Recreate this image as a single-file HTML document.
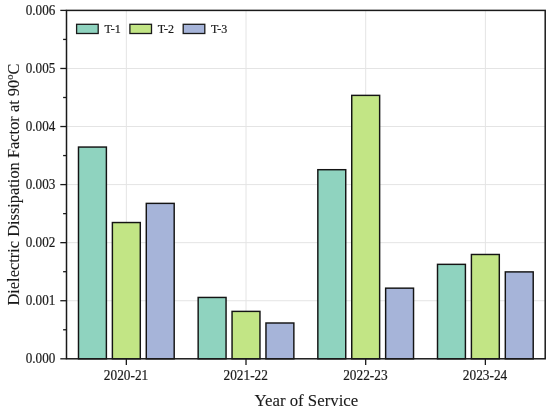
<!DOCTYPE html>
<html><head><meta charset="utf-8"><title>Dielectric Dissipation Factor</title>
<style>
html,body{margin:0;padding:0;background:#fff;}
svg{display:block;}
text{font-family:"Liberation Serif","Times New Roman",serif;fill:#1a1a1a;}
.tk{font-size:13.33px;stroke:#1a1a1a;stroke-width:0.2px;}
.ti{font-size:16.4px;stroke:#1a1a1a;stroke-width:0.1px;}
.lg{font-size:12px;stroke:#1a1a1a;stroke-width:0.2px;}
</style></head><body>
<svg width="550" height="412" viewBox="0 0 550 412">
<rect width="550" height="412" fill="#ffffff"/>
<g stroke="#e4e4e4" stroke-width="1" fill="none"><line x1="66.5" x2="545.2" y1="300.73" y2="300.73"/><line x1="66.5" x2="545.2" y1="242.67" y2="242.67"/><line x1="66.5" x2="545.2" y1="184.60" y2="184.60"/><line x1="66.5" x2="545.2" y1="126.53" y2="126.53"/><line x1="66.5" x2="545.2" y1="68.47" y2="68.47"/><line x1="126.34" x2="126.34" y1="10.4" y2="358.8"/><line x1="246.01" x2="246.01" y1="10.4" y2="358.8"/><line x1="365.69" x2="365.69" y1="10.4" y2="358.8"/><line x1="485.36" x2="485.36" y1="10.4" y2="358.8"/></g>
<g fill="#8fd3bf" stroke="#141414" stroke-width="1.45"><rect x="78.49" y="147.06" width="27.90" height="211.74"/><rect x="198.16" y="297.45" width="27.90" height="61.35"/><rect x="317.84" y="169.70" width="27.90" height="189.10"/><rect x="437.51" y="264.35" width="27.90" height="94.45"/></g>
<g fill="#c2e585" stroke="#141414" stroke-width="1.45"><rect x="112.39" y="222.54" width="27.90" height="136.26"/><rect x="232.06" y="311.39" width="27.90" height="47.41"/><rect x="351.74" y="95.38" width="27.90" height="263.42"/><rect x="471.41" y="254.48" width="27.90" height="104.32"/></g>
<g fill="#a6b4d9" stroke="#141414" stroke-width="1.45"><rect x="146.29" y="203.38" width="27.90" height="155.42"/><rect x="265.96" y="323.00" width="27.90" height="35.80"/><rect x="385.64" y="288.16" width="27.90" height="70.64"/><rect x="505.31" y="271.90" width="27.90" height="86.90"/></g>
<rect x="66.5" y="10.4" width="478.70000000000005" height="348.40000000000003" fill="none" stroke="#1a1a1a" stroke-width="1.5"/>
<g stroke="#1a1a1a" stroke-width="1.3" fill="none"><line x1="60.3" x2="66.5" y1="358.80" y2="358.80"/><line x1="63.1" x2="66.5" y1="329.77" y2="329.77"/><line x1="60.3" x2="66.5" y1="300.73" y2="300.73"/><line x1="63.1" x2="66.5" y1="271.70" y2="271.70"/><line x1="60.3" x2="66.5" y1="242.67" y2="242.67"/><line x1="63.1" x2="66.5" y1="213.63" y2="213.63"/><line x1="60.3" x2="66.5" y1="184.60" y2="184.60"/><line x1="63.1" x2="66.5" y1="155.57" y2="155.57"/><line x1="60.3" x2="66.5" y1="126.53" y2="126.53"/><line x1="63.1" x2="66.5" y1="97.50" y2="97.50"/><line x1="60.3" x2="66.5" y1="68.47" y2="68.47"/><line x1="63.1" x2="66.5" y1="39.43" y2="39.43"/><line x1="60.3" x2="66.5" y1="10.40" y2="10.40"/><line x1="126.34" x2="126.34" y1="358.8" y2="365.0"/><line x1="246.01" x2="246.01" y1="358.8" y2="365.0"/><line x1="365.69" x2="365.69" y1="358.8" y2="365.0"/><line x1="485.36" x2="485.36" y1="358.8" y2="365.0"/></g>
<text class="tk" transform="translate(55.3,363.30) scale(0.985,1.1)" text-anchor="end">0.000</text>
<text class="tk" transform="translate(55.3,305.23) scale(0.985,1.1)" text-anchor="end">0.001</text>
<text class="tk" transform="translate(55.3,247.17) scale(0.985,1.1)" text-anchor="end">0.002</text>
<text class="tk" transform="translate(55.3,189.10) scale(0.985,1.1)" text-anchor="end">0.003</text>
<text class="tk" transform="translate(55.3,131.03) scale(0.985,1.1)" text-anchor="end">0.004</text>
<text class="tk" transform="translate(55.3,72.97) scale(0.985,1.1)" text-anchor="end">0.005</text>
<text class="tk" transform="translate(55.3,14.90) scale(0.985,1.1)" text-anchor="end">0.006</text>
<text class="tk" transform="translate(126.04,379.8) scale(1,1.1)" text-anchor="middle">2020-21</text>
<text class="tk" transform="translate(245.71,379.8) scale(1,1.1)" text-anchor="middle">2021-22</text>
<text class="tk" transform="translate(365.39,379.8) scale(1,1.1)" text-anchor="middle">2022-23</text>
<text class="tk" transform="translate(485.06,379.8) scale(1,1.1)" text-anchor="middle">2023-24</text>
<text class="ti" style="font-size:16.8px" x="306.4" y="405.5" text-anchor="middle">Year of Service</text>
<text class="ti" transform="translate(18.9,184.6) rotate(-90)" text-anchor="middle">Dielectric Dissipation Factor at 90<tspan font-size="10.5" dy="-5.5">o</tspan><tspan dy="5.5">C</tspan></text>
<rect x="76.6" y="24.3" width="21.6" height="9.2" fill="#8fd3bf" stroke="#1a1a1a" stroke-width="1.3"/><text class="lg" x="104.5" y="33">T-1</text>
<rect x="129.9" y="24.3" width="21.6" height="9.2" fill="#c2e585" stroke="#1a1a1a" stroke-width="1.3"/><text class="lg" x="157.8" y="33">T-2</text>
<rect x="183.2" y="24.3" width="21.6" height="9.2" fill="#a6b4d9" stroke="#1a1a1a" stroke-width="1.3"/><text class="lg" x="211.1" y="33">T-3</text>
</svg>
</body></html>
